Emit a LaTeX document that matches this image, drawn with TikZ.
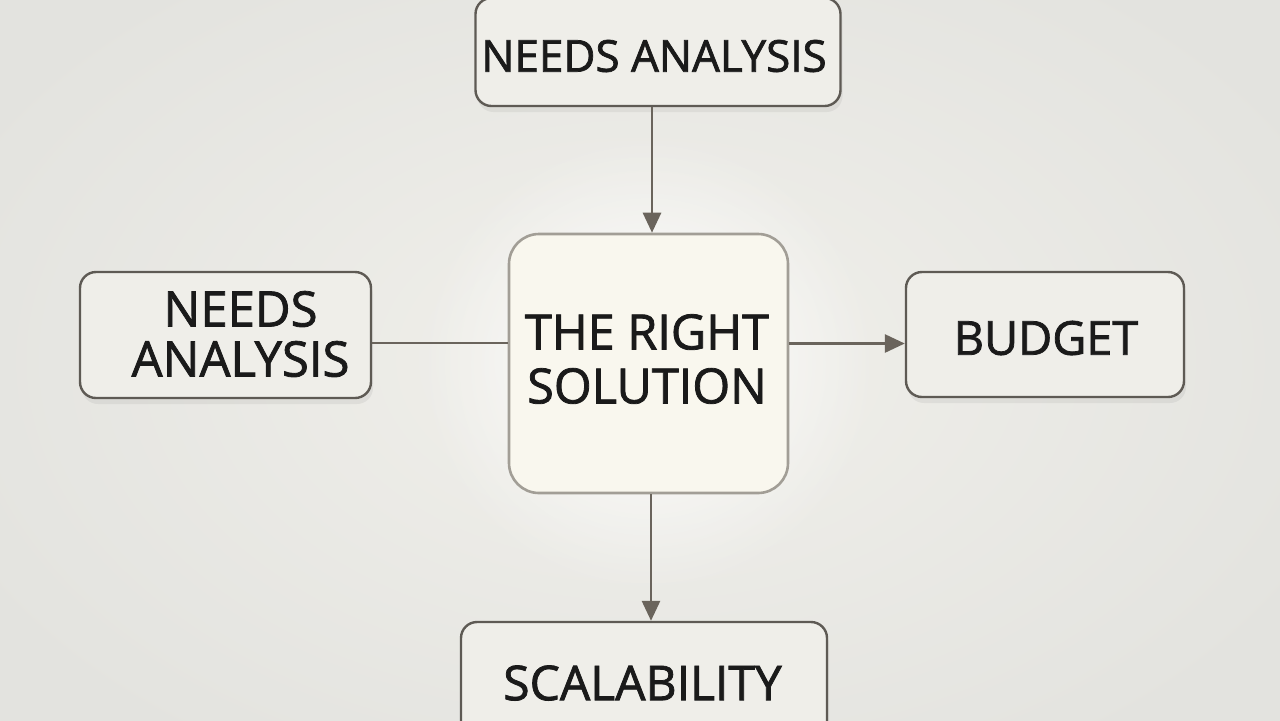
\documentclass[tikz,border=0pt]{standalone}
\usepackage{fontspec}
\setmainfont{Open Sans}[FakeBold=1.6,AutoFakeBold=1.6]
\usetikzlibrary{arrows.meta,shadows,fadings}
\definecolor{bgout}{HTML}{E3E3DF}
\definecolor{bgin}{HTML}{F1F0EB}
\definecolor{boxfill}{HTML}{EFEEE9}
\definecolor{cfill}{HTML}{F9F7EE}
\definecolor{edge}{HTML}{5E5A54}
\definecolor{cedge}{HTML}{A29E96}
\definecolor{conn}{HTML}{6A645C}
\definecolor{ink}{HTML}{1A1A1A}
\tikzfading[name=glowfade, inner color=transparent!0, outer color=transparent!100]
\newcommand{\lbl}[2]{\fontsize{#1}{#2}\selectfont\bfseries}
\tikzset{
  box/.style={draw=edge, line width=1.2pt, fill=boxfill, rounded corners=8pt,
    text=ink, align=center, inner sep=0pt,
    drop shadow={opacity=0.12, shadow xshift=1pt, shadow yshift=-3pt}},
  cbox/.style={draw=cedge, line width=1.3pt, fill=cfill, rounded corners=15pt,
    text=ink, align=center, inner sep=0pt},
  conn/.style={draw=conn, line width=1.4pt},
  tip/.style={-{Triangle[length=10pt,width=9pt]}}
}
\begin{document}
\begin{tikzpicture}
\useasboundingbox (0,0) rectangle (640pt,-360pt);
\clip (0,0) rectangle (640pt,-360pt);
\shade[inner color=bgin, outer color=bgout] (-60pt,60pt) rectangle (700pt,-420pt);
\fill[white, path fading=glowfade, fill opacity=0.95] (324pt,-182pt) circle (115pt);
\node[box, minimum width=182.5pt, minimum height=54pt] (top) at (329pt,-26pt) {};
\node[text=ink, font=\lbl{22}{25}] (ttext) at (327pt,-28pt) {NEEDS ANALYSIS};
\node[box, minimum width=145.5pt, minimum height=63pt] (left) at (112.75pt,-167.5pt) {};
\node[text=ink, font=\lbl{24.5}{25}, align=center, inner sep=0pt] (ltext) at (120.25pt,-167pt) {NEEDS\\ANALYSIS};
\node[cbox, minimum width=139.5pt, minimum height=129.5pt] (center) at (324.25pt,-181.75pt) {};
\node[text=ink, font=\lbl{24.3}{27}, align=center, inner sep=0pt] (ctext) at (323.5pt,-179.5pt) {THE RIGHT\\SOLUTION};
\node[box, minimum width=139pt, minimum height=62.5pt] (right) at (522.5pt,-167.25pt) {};
\node[text=ink, font=\lbl{23.4}{25}] (rtext) at (523pt,-169pt) {BUDGET};
\node[box, minimum width=183pt, minimum height=60pt] (bottom) at (322pt,-341pt) {};
\node[text=ink, font=\lbl{24}{25}] (btext) at (321.25pt,-341.5pt) {SCALABILITY};
\coordinate (tx) at (326pt,0);
\coordinate (bx) at (325.5pt,0);
\draw[conn, tip] (tx |- top.south) -- (tx |- center.north);
\draw[conn] ([yshift=-4pt]left.east) -- ([yshift=-4pt]center.west |- left.east);
\draw[conn, tip] ([yshift=-4.5pt]center.east |- right.west) -- ([yshift=-4.5pt]right.west);
\draw[conn, tip] (bx |- center.south) -- (bx |- bottom.north);
\end{tikzpicture}
\end{document}
